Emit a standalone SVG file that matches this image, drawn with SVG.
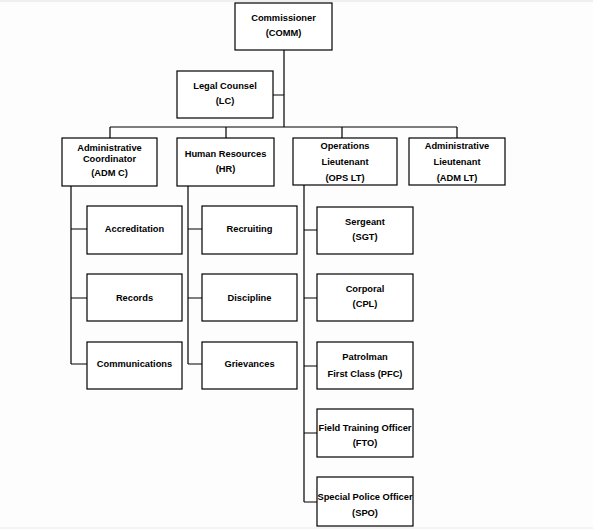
<svg xmlns="http://www.w3.org/2000/svg" width="593" height="529" viewBox="0 0 593 529">
<style>
.box{fill:#fff;stroke:#000;stroke-width:1.2}
.ln{fill:none;stroke:#000;stroke-width:1.2}
text{font-family:"Liberation Sans",Arial,sans-serif;font-weight:bold;font-size:9.3px;fill:#000;text-anchor:middle}
</style>
<rect x="0" y="0" width="593" height="529" fill="#fdfdfd"/>
<rect x="0" y="0" width="593" height="2" fill="#efefef"/>
<rect x="0" y="527" width="593" height="2" fill="#f3f3f3"/>
<g id="connectors">
<path class="ln" d="M284,50V127M273,95H284M110,127H457M110,127V138M226,127V138M342,127V138M457,127V138"/>
<path class="ln" d="M71,186V364M71,229H87M71,298H87M71,364H87"/>
<path class="ln" d="M188,186V364M188,229H202M188,298H202M188,364H202"/>
<path class="ln" d="M304,185V502M304,230H317M304,298H317M304,366H317M304,433H317M304,502H317"/>
</g>
<g id="comm"><rect class="box" x="235" y="3" width="97" height="47"/><text x="283.5" y="21">Commissioner</text><text x="283.5" y="36">(COMM)</text></g>
<g id="lc"><rect class="box" x="177" y="71" width="96" height="47"/><text x="225" y="89">Legal Counsel</text><text x="225" y="104">(LC)</text></g>
<g id="admc"><rect class="box" x="62" y="138" width="95" height="48"/><text x="109.5" y="151">Administrative</text><text x="109.5" y="162">Coordinator</text><text x="109.5" y="176">(ADM C)</text></g>
<g id="hr"><rect class="box" x="177" y="138" width="97" height="48"/><text x="225.5" y="157">Human Resources</text><text x="225.5" y="172">(HR)</text></g>
<g id="opslt"><rect class="box" x="293" y="138" width="104" height="47"/><text x="345" y="149">Operations</text><text x="345" y="165">Lieutenant</text><text x="345" y="181">(OPS LT)</text></g>
<g id="admlt"><rect class="box" x="409" y="138" width="96" height="47"/><text x="457" y="149">Administrative</text><text x="457" y="165">Lieutenant</text><text x="457" y="181">(ADM LT)</text></g>
<g id="accred"><rect class="box" x="87" y="206" width="95" height="48"/><text x="134.5" y="232">Accreditation</text></g>
<g id="records"><rect class="box" x="87" y="274" width="95" height="47"/><text x="134.5" y="301">Records</text></g>
<g id="comms"><rect class="box" x="87" y="342" width="95" height="47"/><text x="134.5" y="367">Communications</text></g>
<g id="recruit"><rect class="box" x="202" y="206" width="95" height="48"/><text x="249.5" y="232">Recruiting</text></g>
<g id="discipline"><rect class="box" x="202" y="274" width="95" height="47"/><text x="249.5" y="301">Discipline</text></g>
<g id="griev"><rect class="box" x="202" y="342" width="95" height="47"/><text x="249.5" y="367">Grievances</text></g>
<g id="sgt"><rect class="box" x="317" y="207" width="96" height="47"/><text x="365" y="225">Sergeant</text><text x="365" y="240">(SGT)</text></g>
<g id="cpl"><rect class="box" x="317" y="274" width="96" height="47"/><text x="365" y="292">Corporal</text><text x="365" y="307">(CPL)</text></g>
<g id="pfc"><rect class="box" x="317" y="342" width="96" height="47"/><text x="365" y="360">Patrolman</text><text x="365" y="377">First Class (PFC)</text></g>
<g id="fto"><rect class="box" x="317" y="409" width="96" height="48"/><text x="365" y="431">Field Training Officer</text><text x="365" y="446">(FTO)</text></g>
<g id="spo"><rect class="box" x="317" y="477" width="96" height="49"/><text x="365" y="500">Special Police Officer</text><text x="365" y="516">(SPO)</text></g>
</svg>
